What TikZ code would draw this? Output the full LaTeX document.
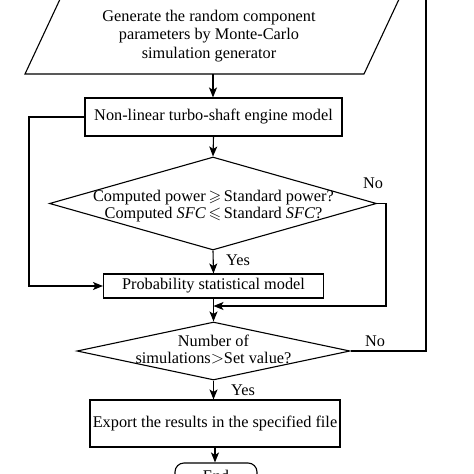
\documentclass[tikz,border=0pt]{standalone}
\usepackage{amssymb}
\usepackage{fontspec}
\setmainfont{Liberation Serif}
\usetikzlibrary{shapes.geometric,arrows.meta}
\begin{document}
\begin{tikzpicture}[x=1pt,y=-1pt,
  line width=1.1pt,
  arr/.style={-{Stealth[length=10pt,width=8pt,inset=2.5pt]}},
  txt/.style={font=\fontsize{16.3}{18.5}\selectfont, align=center, inner sep=0pt},
  procbox/.style={draw, rectangle, inner sep=0pt},
  decide/.style={draw, diamond, inner sep=0pt},
  lbl/.style={font=\fontsize{16.3}{18.5}\selectfont, inner sep=0pt}
]
\useasboundingbox (0,0) rectangle (474,474);
\clip (0,0) rectangle (474,474);
% parallelogram (input)
\draw (25,74) -- (364,74) -- (408,-20) -- (69,-20) -- cycle;
\node[txt] (gen) at (209,36) {Generate the random component\\parameters by Monte-Carlo\\simulation generator};
\coordinate (genS) at (213,74);
% engine model
\node[procbox, minimum width=257pt, minimum height=38pt] (nl) at (213.5,117) {};
\node[txt] (nlt) at (nl.center) {Non-linear turbo-shaft engine model};
% decision 1
\node[decide, minimum width=327pt, minimum height=93pt] (d1) at (213,203.5) {};
\node[txt, font=\fontsize{16.3}{17}\selectfont] (d1t) at (213.5,206) {Computed power\,$\geqslant$\,Standard power?\\Computed \textit{SFC}\,$\leqslant$\,Standard \textit{SFC}?};
% probability model
\node[procbox, minimum width=220pt, minimum height=24pt] (prob) at (213.5,286) {};
\node[txt] (probt) at (prob.center) {Probability statistical model};
% decision 2
\node[decide, minimum width=273pt, minimum height=58pt] (d2) at (213.5,351) {};
\node[txt, font=\fontsize{16.3}{17}\selectfont] (d2t) at (213.5,349.5) {Number of\\simulations$>$Set value?};
% export
\node[procbox, minimum width=250pt, minimum height=47pt] (exp) at (215,423.5) {};
\node[txt] (expt) at (exp.center) {Export the results in the specified file};
% end
\node[draw, rounded corners=9pt, minimum width=82pt, minimum height=25pt, inner sep=0pt] (endn) at (216,475.5) {};
\node[txt] (endt) at (endn.center) {End};
% connectors
\draw[arr] (genS) -- (genS |- nl.north);
\draw[arr] (nl.south) -- (d1.north);
\draw[arr] (nl.west) -- (29,117) -- (29,286) -- (prob.west);
\draw[arr] (d1.south) -- (prob.north);
\node[lbl] (yes1) at (238,260) {Yes};
\coordinate (j1) at (213.5,306);
\draw[arr] (d1.east) -- (386,203.5) -- (386,306) -- (j1);
\node[lbl] (no1) at (373,183) {No};
\draw[arr] (prob.south) -- (d2.north);
\coordinate (loopTop) at (426,-20);
\draw (d2.east) -- (426,351) -- (loopTop);
\node[lbl] (no2) at (375,341) {No};
\draw[arr] (d2.south) -- (d2.south |- exp.north);
\node[lbl] (yes2) at (243,390) {Yes};
\draw[arr] (exp.south) -- (exp.south |- endn.north);
\end{tikzpicture}
\end{document}
